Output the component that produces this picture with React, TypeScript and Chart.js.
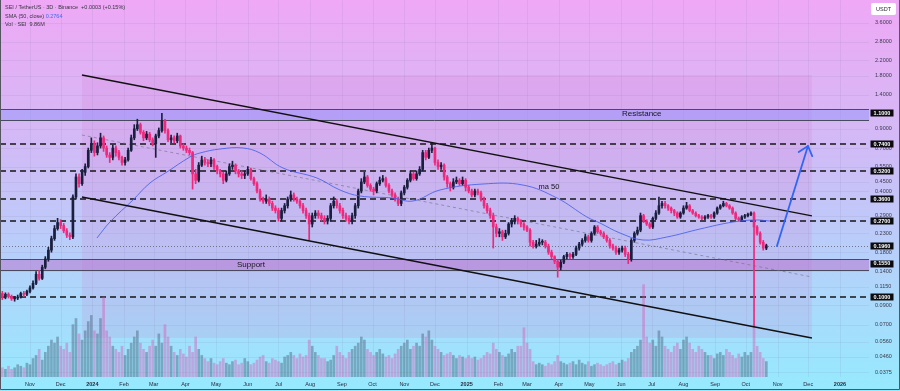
import React, { useEffect, useRef } from 'react';
import { Chart, registerables } from 'chart.js';
Chart.register(...registerables);

// ---- time axis: days counted from 2024-01-01, one candle every 3 days ----
const START_DAY = -88;
const STEP_DAYS = 3;
const X_MIN = -90.3;
const X_MAX = 759.4;
const Y_MIN = 0.03536;
const Y_MAX = 4.828;
const VOL_MAX = 245;

const FIRST_OPEN = 0.105;
const closes = [
  .100,.104,.101,.098,.099,.100,.105,.104,.108,.113,.120,.135,.128,.148,.165,.185,.215,.245,.265,.255,.238,.225,.220,.37,.48,.44,.51,.55,.68,.74,.66,.72,.80,.70,.64,.62,.70,.66,.62,
  .58,.60,.68,.80,.90,.95,.86,.80,.84,.78,.74,.82,.88,1.00,.88,.78,.80,.77,.82,.72,.70,.68,.66,.50,.46,.56,.60,.58,.57,.60,.55,.52,.50,.46,.50,.55,.56,.52,.50,
  .49,.50,.53,.47,.44,.40,.36,.35,.36,.34,.32,.31,.28,.31,.33,.36,.38,.36,.35,.33,.31,.29,.26,.29,.30,.29,.28,.27,.28,.33,.35,.33,.31,.29,.28,.27,.29,
  .33,.40,.45,.48,.43,.41,.40,.44,.46,.47,.43,.40,.38,.36,.34,.39,.42,.46,.50,.47,.50,.53,.66,.62,.68,.70,.58,.55,.56,.48,.44,.42,.45,.46,.44,
  .46,.42,.40,.38,.40,.39,.36,.33,.31,.29,.25,.23,.235,.22,.23,.26,.27,.28,.27,.26,.25,.24,.205,.195,.20,.205,
  .205,.195,.18,.17,.16,.148,.158,.17,.175,.17,.175,.19,.20,.21,.22,.21,.23,.25,.235,.23,.22,.21,.195,.19,.18,.185,.19,.175,.165,.21,.23,.24,.29,.27,.26,.25,.28,.30,.33,.34,.33,.32,.31,.30,.285,.30,.32,.33,.31,.30,.29,.285,
  .28,.285,.29,.285,.30,.32,.33,.34,.33,.32,.30,.28,.275,.285,.29,.295,.30,.25,.23,.205,.19,.196
];
const highs = [
  .108,.106,.106,.103,.101,.103,.107,.108,.110,.116,.124,.140,.142,.152,.170,.192,.222,.255,.28,.275,.262,.245,.232,.38,.50,.50,.53,.57,.70,.80,.77,.75,.85,.82,.72,.66,.73,.72,.68,
  .63,.62,.70,.83,.95,1.02,.97,.88,.87,.86,.80,.84,.91,1.10,1.02,.90,.83,.82,.85,.83,.74,.72,.70,.67,.53,.58,.63,.62,.60,.62,.61,.56,.53,.51,.52,.57,.59,.57,.53,
  .52,.52,.55,.54,.48,.45,.41,.37,.38,.37,.35,.33,.32,.32,.34,.37,.40,.39,.37,.36,.34,.32,.30,.30,.31,.31,.30,.29,.29,.34,.37,.36,.34,.32,.30,.29,.30,
  .34,.41,.47,.51,.49,.44,.42,.45,.48,.49,.48,.44,.41,.39,.37,.40,.43,.47,.52,.51,.52,.55,.68,.68,.70,.75,.71,.60,.58,.57,.49,.45,.47,.48,.47,
  .48,.47,.43,.41,.41,.41,.40,.37,.34,.32,.30,.26,.245,.24,.24,.265,.28,.29,.285,.275,.265,.255,.245,.21,.21,.215,
  .212,.21,.20,.185,.172,.163,.162,.173,.18,.178,.18,.195,.205,.215,.228,.225,.235,.255,.255,.24,.235,.225,.215,.20,.195,.19,.195,.195,.18,.215,.235,.25,.30,.295,.275,.265,.285,.31,.37,.35,.35,.335,.325,.315,.305,.305,.33,.345,.335,.315,.305,.295,
  .29,.29,.295,.295,.305,.325,.335,.35,.345,.335,.325,.305,.285,.29,.295,.30,.305,.305,.255,.235,.21,.20
];
const lows = [
  .097,.098,.099,.096,.095,.097,.099,.101,.102,.106,.111,.118,.125,.126,.145,.160,.180,.210,.24,.245,.232,.218,.212,.215,.36,.42,.43,.49,.54,.66,.63,.64,.70,.67,.62,.58,.60,.63,.60,
  .56,.56,.59,.67,.78,.88,.84,.77,.78,.76,.72,.62,.80,.86,.85,.76,.75,.75,.75,.70,.68,.66,.64,.41,.44,.45,.55,.56,.55,.55,.53,.50,.48,.44,.45,.49,.53,.50,.48,
  .47,.47,.49,.46,.43,.39,.35,.34,.34,.33,.31,.30,.27,.27,.30,.32,.35,.35,.34,.32,.30,.28,.21,.25,.28,.28,.27,.26,.26,.27,.32,.32,.30,.28,.27,.26,.26,
  .28,.32,.39,.44,.42,.40,.38,.39,.43,.45,.42,.39,.37,.35,.33,.33,.38,.41,.45,.46,.46,.49,.52,.60,.61,.66,.56,.53,.53,.46,.42,.40,.41,.44,.43,
  .43,.40,.39,.37,.37,.38,.35,.32,.30,.28,.19,.22,.22,.21,.215,.225,.25,.26,.26,.25,.24,.235,.195,.19,.19,.195,
  .198,.19,.175,.165,.155,.13,.143,.155,.165,.165,.166,.172,.185,.195,.205,.205,.205,.225,.23,.225,.215,.205,.19,.185,.175,.175,.18,.17,.155,.16,.205,.225,.235,.265,.255,.245,.245,.275,.295,.32,.32,.31,.30,.29,.28,.28,.295,.315,.305,.295,.285,.28,
  .275,.275,.28,.28,.28,.295,.315,.325,.325,.315,.295,.275,.27,.27,.28,.285,.29,.068,.225,.20,.185,.186
];
// volume in millions
const volumes = [
  6,5,7,5,6,8,7,6,9,8,
  12,14,18,11,16,20,24,22,
  26,20,18,22,16,34,38,28,
  24,30,36,40,30,28,38,52,30,26,
  20,18,16,20,14,18,22,26,30,22,18,16,20,
  24,20,28,22,34,26,20,
  16,14,18,15,13,20,16,26,18,
  14,12,10,12,9,8,10,12,9,8,10,11,8,9,12,10,8,9,11,13,14,10,9,12,11,10,9,13,14,
  16,14,12,15,13,14,
  24,20,16,14,12,12,
  10,11,14,20,16,
  14,12,16,18,20,22,26,24,18,16,14,16,18,15,13,
  14,12,15,18,20,22,24,18,20,22,20,28,26,30,24,
  20,18,16,14,15,16,14,12,14,13,12,14,12,13,11,12,14,16,15,22,
  18,16,14,13,15,18,16,20,20,32,22,18,
  10,8,9,8,7,9,8,10,14,10,9,8,9,10,8,11,9,8,10,7,8,9,8,7,8,9,10,8,9,11,10,12,16,
  18,20,24,60,
  26,22,24,20,30,26,20,18,16,20,22,18,24,26,22,18,16,20,18,16,14,
  14,12,15,16,14,18,16,14,12,15,13,16,14,16,
  34,20,16,12,10
];

// SMA(50)
const maDays = [4.5,17.2,39.7,56.3,72.9,95.4,105.2,124.8,147.3,163.9,186.4,219.6,242.1,261.7,293.9,313.5,339.9,382,421,454.3,483.6,496.3,515.9,538.4,561.8,594.1,626.4,647.9,662.5];
const maValues = [.2167,.2669,.3556,.4439,.5123,.623,.6564,.6916,.7007,.6564,.5398,.4738,.4052,.3747,.365,.351,.4052,.4381,.4324,.365,.2849,.2635,.2313,.2111,.2195,.2436,.2669,.274,.2704];

// axis labels
const monthDays = [-61,-31,0,31,60,91,121,152,182,213,244,274,305,335,366,397,425,456,486,517,547,578,609,639,670,700,731];
const monthLabels = ['Nov','Dec','2024','Feb','Mar','Apr','May','Jun','Jul','Aug','Sep','Oct','Nov','Dec','2025','Feb','Mar','Apr','May','Jun','Jul','Aug','Sep','Oct','Nov','Dec','2026'];
const priceTicks = [3.6,2.8,2.2,1.8,1.4,0.9,0.7,0.55,0.45,0.4,0.29,0.23,0.18,0.14,0.115,0.09,0.07,0.056,0.046,0.0375];
const boxedTicks = [1.1,0.74,0.52,0.36,0.27,0.196,0.155,0.10];

// drawings
const dashedLevels = [0.74,0.52,0.36,0.27,0.10];
const resistanceZone = [1.016,1.165];
const supportZone = [0.1427,0.1648];
const currentPrice = 0.196;
const channelUpper = [[-10.2,1.815],[703.6,0.289]];
const channelLower = [[-10.2,0.370],[703.6,0.0588]];
const channelMid = [[-10.2,0.830],[703.6,0.1303]];
const channelBox = [-10.2,703.6,1.815,0.0588];
const arrowLine = [[669.4,0.195],[699.7,0.719]];
const resistanceLabelDay = 537.2;
const supportLabelDay = 155.1;
const maLabel = [446.5,0.421];

const FONT = '"Liberation Sans", Arial, sans-serif';
const UP = '#1b1f3f';
const DOWN = '#f0287c';

const days = closes.map((_, i) => START_DAY + STEP_DAYS * i);
const opens = closes.map((c, i) => (i === 0 ? FIRST_OPEN : closes[i - 1]));
const isUp = closes.map((c, i) => c >= opens[i]);

const fmt = (v: number) => v.toFixed(4);

const overlay = {
  id: 'overlay',
  beforeDraw(chart: any) {
    const { ctx, width, height } = chart;
    ctx.save();
    const g = ctx.createLinearGradient(0, 0, 0, height);
    g.addColorStop(0, '#efa8f5');
    g.addColorStop(0.4, '#cfbcf6');
    g.addColorStop(0.72, '#b0d5fb');
    g.addColorStop(1, '#95eafe');
    ctx.fillStyle = g;
    ctx.fillRect(0, 0, width, height);
    ctx.restore();
  },
  beforeDatasetsDraw(chart: any) {
    const { ctx, chartArea: a } = chart;
    const xs = chart.scales.x, ys = chart.scales.y;
    const X = (d: number) => xs.getPixelForValue(d);
    const Y = (v: number) => ys.getPixelForValue(v);
    ctx.save();
    // grid
    ctx.strokeStyle = 'rgba(110,110,160,0.10)';
    ctx.lineWidth = 1;
    monthDays.forEach((d) => {
      const x = Math.round(X(d)) + 0.5;
      ctx.beginPath(); ctx.moveTo(x, a.top); ctx.lineTo(x, a.bottom); ctx.stroke();
    });
    priceTicks.forEach((v) => {
      const y = Math.round(Y(v)) + 0.5;
      ctx.beginPath(); ctx.moveTo(a.left, y); ctx.lineTo(a.right, y); ctx.stroke();
    });
    // channel shaded box
    ctx.fillStyle = 'rgba(215,90,190,0.13)';
    const bx0 = X(channelBox[0]), bx1 = X(channelBox[1]);
    const by0 = Y(channelBox[2]), by1 = Y(channelBox[3]);
    ctx.fillRect(bx0, by0, bx1 - bx0, by1 - by0);
    // zones
    const zone = (z: number[], fill: string) => {
      const y0 = Math.round(Y(z[1])) + 0.5, y1 = Math.round(Y(z[0])) + 0.5;
      ctx.fillStyle = fill;
      ctx.fillRect(a.left, y0, a.right - a.left, y1 - y0);
      ctx.strokeStyle = '#4a4a5e';
      ctx.lineWidth = 1;
      ctx.beginPath();
      ctx.moveTo(a.left, y0); ctx.lineTo(a.right, y0);
      ctx.moveTo(a.left, y1); ctx.lineTo(a.right, y1);
      ctx.stroke();
    };
    zone(resistanceZone, 'rgba(140,145,255,0.45)');
    zone(supportZone, 'rgba(185,110,205,0.50)');
    // dashed levels
    ctx.strokeStyle = '#161616';
    ctx.lineWidth = 1.5;
    ctx.setLineDash([6, 4]);
    dashedLevels.forEach((v) => {
      const y = Math.round(Y(v));
      ctx.beginPath(); ctx.moveTo(a.left, y); ctx.lineTo(a.right, y); ctx.stroke();
    });
    // current price dotted
    ctx.strokeStyle = 'rgba(90,90,110,0.75)';
    ctx.lineWidth = 1;
    ctx.setLineDash([1, 2]);
    const yc = Math.round(Y(currentPrice)) + 0.5;
    ctx.beginPath(); ctx.moveTo(a.left, yc); ctx.lineTo(a.right, yc); ctx.stroke();
    // mid channel dashed
    ctx.strokeStyle = 'rgba(110,110,130,0.6)';
    ctx.setLineDash([3, 3]);
    ctx.beginPath();
    ctx.moveTo(X(channelMid[0][0]), Y(channelMid[0][1]));
    ctx.lineTo(X(channelMid[1][0]), Y(channelMid[1][1]));
    ctx.stroke();
    ctx.restore();
  },
  afterDatasetsDraw(chart: any) {
    const { ctx, chartArea: a, width, height } = chart;
    const xs = chart.scales.x, ys = chart.scales.y;
    const X = (d: number) => xs.getPixelForValue(d);
    const Y = (v: number) => ys.getPixelForValue(v);
    ctx.save();
    // channel lines
    ctx.strokeStyle = '#111';
    ctx.lineWidth = 1.4;
    [channelUpper, channelLower].forEach((ln) => {
      ctx.beginPath();
      ctx.moveTo(X(ln[0][0]), Y(ln[0][1]));
      ctx.lineTo(X(ln[1][0]), Y(ln[1][1]));
      ctx.stroke();
    });
    // arrow
    const sx = X(arrowLine[0][0]), sy = Y(arrowLine[0][1]);
    const tx = X(arrowLine[1][0]), ty = Y(arrowLine[1][1]);
    ctx.strokeStyle = '#2f66f5';
    ctx.lineWidth = 1.8;
    ctx.lineCap = 'round';
    ctx.beginPath(); ctx.moveTo(sx, sy); ctx.lineTo(tx, ty); ctx.stroke();
    const back = Math.atan2(sy - ty, sx - tx);
    ctx.beginPath();
    ctx.moveTo(tx + 11 * Math.cos(back + 0.7), ty + 11 * Math.sin(back + 0.7));
    ctx.lineTo(tx, ty);
    ctx.lineTo(tx + 11 * Math.cos(back - 0.7), ty + 11 * Math.sin(back - 0.7));
    ctx.stroke();
    // text labels
    ctx.fillStyle = '#15151f';
    ctx.textBaseline = 'middle';
    ctx.textAlign = 'center';
    ctx.font = `8px ${FONT}`;
    ctx.fillText('Resistance', X(resistanceLabelDay), (Y(resistanceZone[0]) + Y(resistanceZone[1])) / 2);
    ctx.fillText('Support', X(supportLabelDay), (Y(supportZone[0]) + Y(supportZone[1])) / 2);
    ctx.font = `7.5px ${FONT}`;
    ctx.fillText('ma 50', X(maLabel[0]), Y(maLabel[1]));
    // price axis labels
    ctx.textAlign = 'left';
    ctx.font = `5.5px ${FONT}`;
    ctx.fillStyle = '#3a3a4c';
    priceTicks.forEach((v) => ctx.fillText(fmt(v), a.right + 6, Y(v)));
    boxedTicks.forEach((v) => {
      const y = Y(v);
      ctx.fillStyle = '#0c0c10';
      ctx.fillRect(a.right + 1.5, Math.round(y) - 3.5, 23, 7);
      ctx.fillStyle = '#ffffff';
      ctx.font = `bold 5.5px ${FONT}`;
      ctx.textAlign = 'center';
      ctx.fillText(fmt(v), a.right + 13, y + 0.3);
    });
    // USDT box
    ctx.fillStyle = '#ffffff';
    ctx.beginPath();
    if (ctx.roundRect) ctx.roundRect(a.right + 2, 3, 25, 12, 2); else ctx.rect(a.right + 2, 3, 25, 12);
    ctx.fill();
    ctx.fillStyle = '#2a2a36';
    ctx.font = `5.5px ${FONT}`;
    ctx.textAlign = 'center';
    ctx.fillText('USDT', a.right + 14.5, 9.3);
    // time axis labels
    monthLabels.forEach((lab, i) => {
      const bold = /^\d{4}$/.test(lab);
      ctx.font = `${bold ? 'bold ' : ''}5.5px ${FONT}`;
      ctx.fillStyle = '#2c2c3c';
      ctx.fillText(lab, X(monthDays[i]), 384);
    });
    // legend
    ctx.textAlign = 'left';
    ctx.font = `5.5px ${FONT}`;
    ctx.fillStyle = '#34343f';
    ctx.fillText('SEI / TetherUS · 3D · Binance  +0.0003 (+0.15%)', 5, 7.5);
    const s1 = 'SMA (50, close) ';
    ctx.fillText(s1, 5, 16);
    ctx.fillStyle = '#3c6cf2';
    ctx.fillText('0.2764', 5 + ctx.measureText(s1).width, 16);
    ctx.fillStyle = '#34343f';
    const s2 = 'Vol · SEI  ';
    ctx.fillText(s2, 5, 24.5);
    ctx.fillText('9.86M', 5 + ctx.measureText(s2).width, 24.5);
    // frame
    ctx.strokeStyle = '#555562';
    ctx.lineWidth = 1;
    ctx.beginPath();
    ctx.moveTo(0.5, 0); ctx.lineTo(0.5, height - 1.5);
    ctx.lineTo(width - 0.5, height - 1.5); ctx.lineTo(width - 0.5, 0);
    ctx.stroke();
    ctx.restore();
  },
};

export default function App() {
  const ref = useRef<HTMLCanvasElement>(null);
  useEffect(() => {
    const canvas = ref.current;
    if (!canvas) return;
    const candleColors = isUp.map((u) => (u ? UP : DOWN));
    const volColors = isUp.map((u) => (u ? 'rgba(70,95,120,0.45)' : 'rgba(225,70,170,0.38)'));
    const chart = new Chart(canvas, {
      type: 'bar',
      data: {
        datasets: [
          {
            type: 'bar',
            label: 'Volume',
            data: volumes.map((v, i) => ({ x: days[i], y: v })),
            yAxisID: 'vol',
            backgroundColor: volColors,
            barThickness: 2,
            grouped: false,
            order: 4,
          } as any,
          {
            type: 'bar',
            label: 'Wicks',
            data: closes.map((_, i) => ({ x: days[i], y: [lows[i], highs[i]] })),
            yAxisID: 'y',
            backgroundColor: candleColors,
            barThickness: 1,
            grouped: false,
            order: 3,
          } as any,
          {
            type: 'bar',
            label: 'Bodies',
            data: closes.map((c, i) => ({ x: days[i], y: [opens[i], c] })),
            yAxisID: 'y',
            backgroundColor: candleColors,
            barThickness: 2,
            minBarLength: 1,
            grouped: false,
            order: 2,
          } as any,
          {
            type: 'line',
            label: 'SMA 50',
            data: maDays.map((d, i) => ({ x: d, y: maValues[i] })),
            yAxisID: 'y',
            borderColor: 'rgba(70,95,235,0.85)',
            borderWidth: 1,
            pointRadius: 0,
            tension: 0.4,
            order: 1,
          } as any,
        ],
      },
      options: {
        responsive: false,
        animation: false,
        devicePixelRatio: 1,
        events: [],
        layout: { padding: { left: 0, top: 0, right: 31, bottom: 14 } },
        plugins: { legend: { display: false }, tooltip: { enabled: false } },
        scales: {
          x: {
            type: 'linear',
            display: false,
            offset: false,
            bounds: 'data',
            min: X_MIN,
            max: X_MAX,
            afterDataLimits: (s: any) => { s.min = X_MIN; s.max = X_MAX; },
          },
          y: {
            type: 'logarithmic',
            display: false,
            bounds: 'data',
            min: Y_MIN,
            max: Y_MAX,
            afterDataLimits: (s: any) => { s.min = Y_MIN; s.max = Y_MAX; },
          },
          vol: {
            type: 'linear',
            display: false,
            bounds: 'data',
            min: 0,
            max: VOL_MAX,
            afterDataLimits: (s: any) => { s.min = 0; s.max = VOL_MAX; },
          },
        },
      } as any,
      plugins: [overlay],
    });
    return () => chart.destroy();
  }, []);
  return (
    <div style={{ position: 'absolute', left: 0, top: 0, width: 900, height: 391 }}>
      <canvas ref={ref} width={900} height={391} style={{ display: 'block', width: '900px', height: '391px' }} />
    </div>
  );
}
